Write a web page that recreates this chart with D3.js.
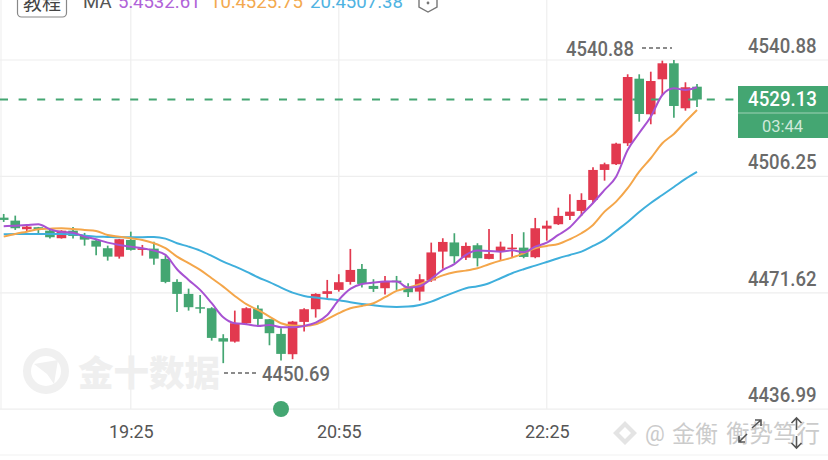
<!DOCTYPE html>
<html><head><meta charset="utf-8">
<style>html,body{margin:0;padding:0;background:#fff;overflow:hidden}svg{display:block}text{font-family:Roboto,"Noto Sans CJK SC",sans-serif}</style>
<script src="https://cdn.jsdelivr.net/npm/d3@7"></script></head><body><script>
const opens=[4493.98,4493.09,4490.53,4491.13,4490.11,4487.86,4490.11,4488.54,4487.14,4484.88,4482.38,4487.35,4484.38,4484.76,4481.70,4474.86,4471.29,4467.33,4467.03,4458.11,4457.10,4462.57,4466.92,4463.76,4459.39,4453.35,4462.96,4466.73,4471.29,4472.48,4474.86,4478.72,4473.67,4472.98,4475.24,4473.16,4471.97,4475.30,4483.87,4486.60,4482.08,4485.77,4481.70,4483.78,4484.76,4485.06,4482.21,4490.71,4492.02,4494.49,4495.97,4499.24,4508.17,4509.87,4516.11,4535.32,4524.73,4535.14,4539.90,4526.52,4532.94];
const closes=[4493.30,4490.83,4491.31,4490.32,4488.15,4490.11,4488.54,4487.44,4485.36,4482.38,4487.56,4484.38,4484.88,4481.79,4474.86,4471.29,4467.33,4466.92,4458.20,4457.10,4462.57,4467.03,4463.85,4459.60,4453.44,4463.05,4466.73,4471.29,4472.09,4474.77,4478.42,4474.26,4472.77,4475.15,4474.86,4471.79,4475.66,4483.63,4486.75,4482.50,4485.56,4481.90,4483.19,4485.36,4485.06,4482.29,4490.83,4491.60,4494.49,4495.76,4499.24,4508.17,4509.87,4515.99,4535.82,4524.82,4534.63,4539.90,4527.20,4532.77,4529.13];
const highs=[4495.08,4494.58,4491.51,4491.22,4490.61,4490.23,4491.22,4489.43,4487.35,4485.65,4487.65,4489.81,4485.86,4486.84,4482.68,4475.66,4472.86,4471.00,4467.33,4459.30,4466.32,4467.33,4467.92,4463.85,4461.08,4463.26,4467.03,4471.49,4475.45,4477.15,4484.67,4480.21,4475.66,4476.64,4476.64,4474.47,4477.15,4486.55,4487.85,4489.34,4486.55,4486.37,4490.62,4486.84,4489.13,4489.64,4493.89,4493.09,4496.95,4500.93,4501.23,4508.97,4510.34,4516.29,4536.63,4536.63,4537.40,4540.68,4540.88,4534.25,4533.75];
const lows=[4492.70,4490.32,4489.81,4489.13,4487.74,4487.74,4487.74,4485.65,4482.80,4481.19,4481.79,4484.17,4482.68,4480.00,4474.47,4465.93,4466.32,4465.55,4457.39,4450.69,4456.80,4462.37,4461.77,4456.01,4451.45,4451.87,4460.07,4464.24,4470.09,4471.97,4474.05,4473.16,4471.88,4471.08,4472.48,4470.39,4469.29,4474.86,4478.78,4480.42,4481.40,4479.46,4481.61,4481.40,4482.21,4481.90,4481.90,4487.14,4491.81,4493.30,4494.49,4498.26,4504.98,4509.66,4515.31,4522.53,4521.76,4530.47,4523.72,4525.80,4526.91];
const ma5=[4491.42,4491.60,4491.81,4492.02,4490.53,4489.73,4489.52,4488.33,4487.56,4486.55,4485.86,4485.36,4484.88,4484.17,4482.89,4478.63,4475.45,4472.48,4468.52,4464.35,4462.57,4462.27,4461.77,4462.07,4461.38,4461.38,4461.77,4462.75,4465.04,4469.50,4472.77,4474.26,4474.65,4474.95,4474.95,4473.16,4473.58,4475.75,4478.42,4480.15,4482.89,4484.17,4484.08,4483.87,4484.28,4483.69,4485.36,4486.55,4488.84,4491.13,4494.78,4498.35,4502.22,4506.17,4514.12,4519.17,4524.02,4530.47,4532.47,4531.96,4532.77];
const ma10=[4488.33,4489.13,4489.81,4490.53,4490.71,4490.83,4490.62,4490.32,4490.02,4488.83,4488.33,4487.85,4487.35,4486.37,4484.88,4482.38,4480.42,4478.42,4475.95,4473.46,4470.69,4468.22,4466.53,4464.54,4462.57,4461.86,4461.77,4462.27,4463.76,4465.55,4467.03,4467.72,4468.52,4470.30,4472.18,4473.16,4474.20,4475.45,4476.79,4477.74,4478.22,4478.93,4480.12,4481.19,4482.08,4483.39,4484.88,4485.56,4486.16,4487.56,4489.34,4491.81,4495.76,4498.74,4502.73,4507.66,4511.65,4516.11,4518.88,4522.53,4526.01];
const ma20=[4489.04,4489.13,4489.13,4489.13,4489.13,4489.13,4489.04,4488.63,4488.33,4488.24,4488.15,4488.15,4488.15,4488.24,4487.74,4486.37,4485.36,4484.17,4482.59,4480.89,4479.46,4477.92,4476.25,4474.77,4473.16,4471.67,4470.69,4470.19,4469.80,4469.41,4468.82,4468.31,4467.92,4467.51,4467.42,4467.51,4468.01,4468.99,4470.39,4471.73,4472.98,4473.58,4474.47,4475.95,4477.44,4478.63,4479.70,4480.80,4481.90,4482.89,4483.87,4485.56,4487.35,4490.02,4492.70,4495.67,4498.35,4500.73,4503.11,4505.49,4507.57];
const yTicks=[4540.88,4506.25,4471.62,4436.99];
const xTickIndex=[11,29,47];
const xTickLabels=["19:25","20:55","22:25"];
const lastPrice=4529.13, countdown="03:44", maxPrice=4540.88, minPrice=4450.69;
const legend=[["MA","#555"],["5:4532.61","#b063d8"],["10:4525.75","#f3a94e"],["20:4507.38","#4fb3e2"]];
const UP="#e2394f", DOWN="#44a672";

const W=828,H=460;
const svg=d3.select("body").append("svg").attr("width",W).attr("height",H);
const x=d3.scaleLinear().domain([0,60]).range([3.7,697]);
const y=d3.scaleLinear().domain([4436.99,4540.88]).range([409.2,60]);
const grid=svg.append("g").attr("stroke","#eeeeee").attr("stroke-width",1.2);
grid.selectAll(".h").data(yTicks).join("line").attr("x1",0).attr("x2",W).attr("y1",d=>y(d)).attr("y2",d=>y(d));
grid.append("line").attr("x1",0).attr("x2",W).attr("y1",455).attr("y2",455).attr("stroke","#f2f2f2");
grid.append("line").attr("x1",1).attr("x2",1).attr("y1",0).attr("y2",409).attr("stroke","#f0f0f0");
grid.selectAll(".v").data(xTickIndex).join("line").attr("x1",d=>x(d)).attr("x2",d=>x(d)).attr("y1",0).attr("y2",409);

// watermark
const wm=svg.append("g");
wm.append("circle").attr("cx",46).attr("cy",371).attr("r",19).attr("fill","none").attr("stroke","#f0f0f0").attr("stroke-width",8);
wm.append("path").attr("d","M34 364 L58 360 L54 384 L47 374 Z").attr("fill","#f0f0f0");
wm.append("text").attr("x",78).attr("y",386).attr("font-size",35.5).attr("font-weight",900).attr("fill","#efefef").attr("font-family","Noto Sans CJK SC").text("金十数据");

// axes
const yAxis=d3.axisRight(y).tickValues(yTicks).tickSize(0).tickFormat(d3.format(".2f"));
const ya=svg.append("g").attr("transform","translate(748,0)").call(yAxis);
ya.select(".domain").remove();
ya.selectAll("text").attr("x",68.5).attr("dy",-7.5).attr("text-anchor","end").attr("font-size",19.5).attr("font-weight",500).attr("fill","#6a6a6a").attr("textLength",68.5).attr("lengthAdjust","spacingAndGlyphs").style("font-family","Roboto");
const xAxis=d3.axisBottom(x).tickValues(xTickIndex).tickSize(0).tickFormat((d,i)=>xTickLabels[i]);
const xa=svg.append("g").attr("transform","translate(0,425)").call(xAxis);
xa.select(".domain").remove();
xa.selectAll("text").attr("y",0).attr("dy","0.74em").attr("font-size",18).attr("fill","#555").style("font-family","Roboto");

// candles
const data=opens.map((o,i)=>({i,o,c:closes[i],h:highs[i],l:lows[i]}));
const col=d=>d.c>=d.o?UP:DOWN;
const cg=svg.append("g");
cg.selectAll(".w").data(data).join("line").attr("x1",d=>x(d.i)).attr("x2",d=>x(d.i)).attr("y1",d=>y(d.h)).attr("y2",d=>y(d.l)).attr("stroke",col).attr("stroke-width",1.7);
cg.selectAll(".b").data(data).join("rect").attr("x",d=>x(d.i)-4.8).attr("width",9.6).attr("y",d=>y(Math.max(d.o,d.c))).attr("height",d=>Math.max(1.5,Math.abs(y(d.o)-y(d.c)))).attr("fill",col);

// last-price dash
svg.append("line").attr("x1",0).attr("x2",738).attr("y1",y(lastPrice)).attr("y2",y(lastPrice)).attr("stroke",DOWN).attr("stroke-width",1.8).attr("stroke-dasharray","8 10.6");

// MA lines
const line=d3.line().x((d,i)=>x(i)).y(d=>y(d)).curve(d3.curveMonotoneX);
[[ma20,"#3fafdc"],[ma10,"#f4a64a"],[ma5,"#a752d2"]].forEach(([s,c])=>{
  svg.append("path").attr("d",line(s)).attr("fill","none").attr("stroke",c).attr("stroke-width",2);
});

// price box
const box=svg.append("g");
box.append("rect").attr("x",738).attr("y",86).attr("width",90).attr("height",52).attr("fill",DOWN);
box.append("line").attr("x1",738).attr("x2",828).attr("y1",113).attr("y2",113).attr("stroke","#9fd2b6").attr("stroke-width",1);
box.append("text").attr("x",748).attr("y",106).attr("font-size",20).attr("font-weight",500).attr("fill","#fff").attr("textLength",69).attr("lengthAdjust","spacingAndGlyphs").text(d3.format(".2f")(lastPrice));
box.append("text").attr("x",782.5).attr("y",131.5).attr("text-anchor","middle").attr("font-size",16.5).attr("fill","#cfe9da").text(countdown);

// hi / lo annotations
const ann=svg.append("g").attr("font-size",19.5).attr("font-weight",500).attr("fill","#6a6a6a");
ann.append("text").attr("x",566).attr("y",56).attr("textLength",68).attr("lengthAdjust","spacingAndGlyphs").text(d3.format(".2f")(maxPrice));
ann.append("text").attr("x",262).attr("y",381).attr("textLength",68).attr("lengthAdjust","spacingAndGlyphs").text(d3.format(".2f")(minPrice));
svg.append("line").attr("x1",642).attr("x2",672).attr("y1",48).attr("y2",48).attr("stroke","#666").attr("stroke-width",1.3).attr("stroke-dasharray","4 3");
svg.append("line").attr("x1",224).attr("x2",259).attr("y1",373).attr("y2",373).attr("stroke","#666").attr("stroke-width",1.3).attr("stroke-dasharray","4 3");
svg.append("circle").attr("cx",281).attr("cy",409).attr("r",8).attr("fill",DOWN);

// header
const hd=svg.append("g");
hd.append("rect").attr("x",17.5).attr("y",-12).attr("width",49).attr("height",29).attr("rx",4).attr("fill","#fff").attr("stroke","#888").attr("stroke-width",1.2);
hd.append("text").attr("x",42).attr("y",10).attr("text-anchor","middle").attr("font-size",19).attr("fill","#444").attr("font-family","Noto Sans CJK SC").text("教程");
const lx=[83,118,210,310];
legend.forEach(([t,c],i)=>hd.append("text").attr("x",lx[i]).attr("y",8).attr("font-size",18.6).attr("fill",c).text(t));
hd.append("path").attr("d","M428 -7 L437 -2 L437 7 L428 12 L419 7 L419 -2 Z").attr("fill","none").attr("stroke","#777").attr("stroke-width",1.4);
hd.append("circle").attr("cx",428).attr("cy",3).attr("r",1.4).attr("fill","#777");

// bottom-right icons & watermark
const bm=svg.append("g").attr("fill","#cbcbcb").attr("font-family","Noto Sans CJK SC");
bm.append("path").attr("d","M625 421 L637 433 L625 445 L613 433 Z M625 427 L631 433 L625 439 L619 433 Z").attr("fill","#e4e4e4").attr("fill-rule","evenodd");
bm.append("text").attr("x",645).attr("y",441).attr("font-size",22).text("@");
bm.append("text").attr("x",672).attr("y",442).attr("font-size",23).text("金衡");
bm.append("text").attr("x",726).attr("y",442).attr("font-size",23.5).text("衡势笃行");
const ic=svg.append("g").attr("fill","none").attr("stroke","#555").attr("stroke-width",1.6);
ic.append("path").attr("d","M752 428 L761 420 M755 420 L761 420 L761 426");
ic.append("path").attr("d","M747 434 L739 442 M739 436 L739 442 L745 442");
ic.append("path").attr("d","M796.5 418 L796.5 430 M791.5 423 L796.5 418 L801.5 423");
ic.append("path").attr("d","M796.5 436 L796.5 448 M791.5 443 L796.5 448 L801.5 443");
</script></body></html>
